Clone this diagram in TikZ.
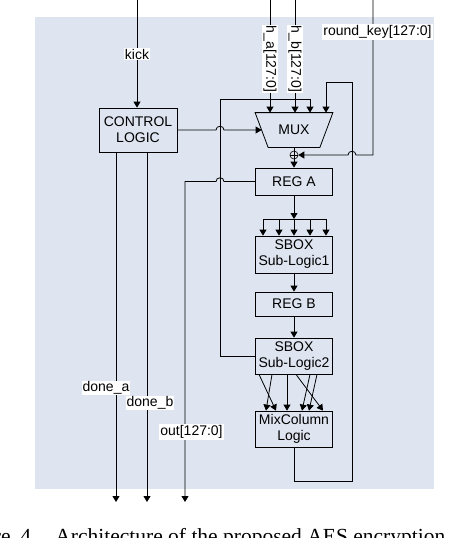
\documentclass[tikz,border=0pt]{standalone}
\usepackage{fontspec}
\setmainfont{Liberation Sans}
\newfontfamily\capfont{Liberation Serif}
\usetikzlibrary{arrows.meta,calc}
\definecolor{bgblue}{RGB}{222,229,240}
\newcommand\dfont{\fontsize{14}{16}\selectfont}
\begin{document}
\begin{tikzpicture}[x=1pt,y=-1pt,line width=0.8pt,
  arr/.style={-{Triangle[width=7pt,length=6pt]}},
  blk/.style={draw,minimum width=77pt,inner sep=0pt,align=center,font=\dfont},
  lbl/.style={fill=white,inner sep=1pt,font=\dfont},
  capstyle/.style={inner sep=0pt,font=\capfont\fontsize{21.5}{24}\selectfont}]
\useasboundingbox (0,0) rectangle (460,538);
\clip (0,0) rectangle (460,538);
\fill[bgblue] (35,17) rectangle (434,489);

% blocks
\node[blk,minimum width=78pt,minimum height=44pt] (ctrl) at (138,130) {CONTROL\\LOGIC};
\node[inner sep=0pt,minimum width=77pt,minimum height=34pt,font=\dfont] (mux) at (294,130) {MUX};
\draw (mux.north west) -- (mux.north east) -- ($(mux.south east)+(-13,0)$) -- ($(mux.south west)+(13,0)$) -- cycle;
\node[blk,minimum height=27pt] (rega) at (294,181.5) {REG A};
\node[blk,minimum height=37pt] (sbox1) at (294,254.5) {SBOX\\Sub-Logic1};
\node[blk,minimum height=24pt] (regb) at (294,304) {REG B};
\node[blk,minimum height=36pt] (sbox2) at (294,356) {SBOX\\Sub-Logic2};
\node[blk,minimum height=36pt] (mix) at (294,429) {MixColumn\\Logic};
\node[circle,draw,minimum size=8pt,inner sep=0pt,line width=0.6pt] (xor) at (294,155) {};
\draw[line width=0.6pt] (xor.north) -- (xor.south) (xor.west) -- (xor.east);

% coordinates
\coordinate (kickin) at (137,0);
\coordinate (hain) at (270,0);
\coordinate (hbin) at (295,0);
\coordinate (rkin) at (373,0);
\coordinate (muxl) at ($(mux.west)+(6.5,0)$);
\coordinate (donea) at (116,502);
\coordinate (doneb) at (147,502);
\coordinate (outend) at (185,502);

% inputs
\draw[arr] (kickin) -- (kickin |- ctrl.north);
\draw[arr] (hain) -- (hain |- mux.north);
\draw[arr] (hbin) -- (hbin |- mux.north);
\draw[arr] (rkin) -- (373,155) -- (356,155) .. controls (356,150) and (348,150) .. (348,155) -- (xor.east);

% control
\draw[arr] (ctrl.east) -- (216,130) .. controls (216,125) and (224,125) .. (224,130) -- (muxl);
\draw[arr] (donea |- ctrl.south) -- (donea);
\draw[arr] (doneb |- ctrl.south) -- (doneb);

% datapath
\draw (mux.south) -- (xor.north);
\draw[arr] (xor.south) -- (rega.north);
\draw[arr] (rega.west) -- (224,181.5) .. controls (224,176.5) and (216,176.5) .. (216,181.5) -- (185,181.5) -- (outend);
\draw[arr] (rega.south) -- (294,219);
\draw (263,219) -- (326,219);
\foreach \xx in {263,279,294,310,326}
  \draw[arr] (\xx,219) -- (\xx,0 |- sbox1.north);
\draw[arr] (sbox1.south) -- (regb.north);
\draw[arr] (regb.south) -- (sbox2.north);

% sbox2 -> mixcolumn
\draw[arr] (259,0 |- sbox2.south) -- (276,0 |- mix.north);
\draw[arr] (272,0 |- sbox2.south) -- (266,0 |- mix.north);
\draw[arr] (287,0 |- sbox2.south) -- (287,0 |- mix.north);
\draw[arr] (296,0 |- sbox2.south) -- (323,0 |- mix.north);
\draw[arr] (310,0 |- sbox2.south) -- (302,0 |- mix.north);
\draw[arr] (317,0 |- sbox2.south) -- (309,0 |- mix.north);

% feedback loops
\draw[arr] (sbox2.west) -| (220,99) -| ($(mux.north)+(16,0)$);
\draw[arr] (mix.south) |- (352,481) -- (352,82) -| ($(mux.north)+(32,0)$);

% labels
\node[lbl] (kicklbl) at (137,54) {kick};
\node[lbl,rotate=-90] (halbl) at (270,59) {h\_a[127:0]};
\node[lbl,rotate=-90] (hblbl) at (295,59) {h\_b[127:0]};
\node[lbl] (rklbl) at (377.5,32) {round\_key[127:0]};
\node[lbl] (dalbl) at (106,388) {done\_a};
\node[lbl] (dblbl) at (150,403) {done\_b};
\node[lbl] (outlbl) at (191.5,432) {out[127:0]};

% caption (cut off by the picture's lower edge, as in the reference)
\node[capstyle,anchor=base east] (fig) at (11,543) {Figure};
\node[capstyle,anchor=base west] (fignum) at (20,543) {4.};
\node[capstyle,anchor=base west] (cap) at (55,543) {Architecture of the proposed AES encryption};
\end{tikzpicture}
\end{document}
